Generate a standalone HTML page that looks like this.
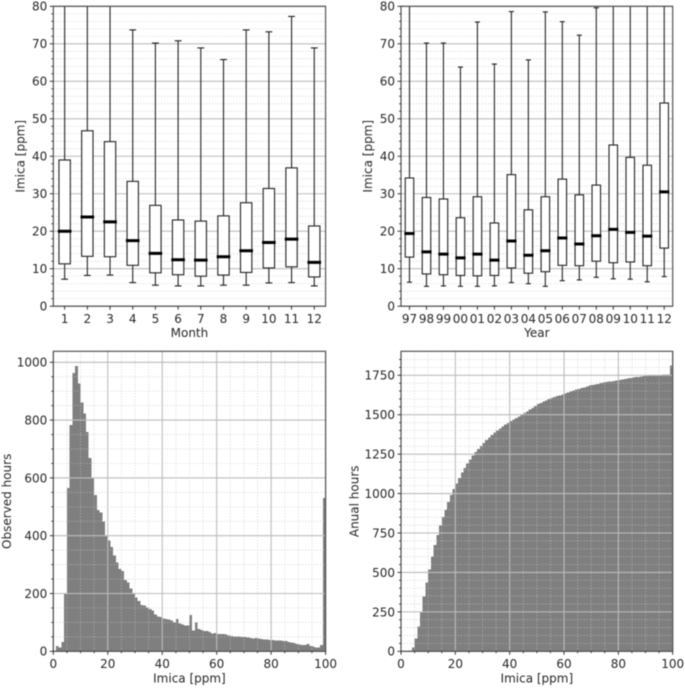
<!DOCTYPE html>
<html>
<head>
<meta charset="utf-8">
<title>Imica distribution charts</title>
<style>
html,body{margin:0;padding:0;background:#fff;}
svg{display:block;position:absolute;left:0;top:0;filter:blur(0.4px);}
text{font-family:"DejaVu Sans","Liberation Sans",sans-serif;fill:#262626;}
</style>
</head>
<body>
<svg id="chart" width="685" height="688" viewBox="0 0 685 688" xmlns="http://www.w3.org/2000/svg"></svg>
<script>
const monthLabels = ["1","2","3","4","5","6","7","8","9","10","11","12"];
const monthLow = [7.2,8.2,8.3,6.3,5.6,5.4,5.4,5.6,5.6,6.2,6.3,5.4];
const monthQ1 = [11.3,13.3,13.2,10.9,8.9,8.4,8,8.3,9,10.2,10.5,7.8];
const monthMedian = [20,23.8,22.5,17.5,14.1,12.4,12.3,13.2,14.8,17,17.9,11.7];
const monthQ3 = [39,46.8,43.9,33.3,26.9,23,22.7,24.1,27.6,31.4,36.9,21.4];
const monthHigh = [95,110,105,73.7,70.2,70.8,68.9,65.8,73.7,73.2,77.3,68.9];

const yearLabels = ["97","98","99","00","01","02","03","04","05","06","07","08","09","10","11","12"];
const yearLow = [6.4,5.3,5.4,5.3,5.3,5.4,6.3,6,5.3,6.8,7,7.7,7.3,7.2,6.5,7.9];
const yearQ1 = [13.1,8.6,8.4,8.2,8.1,8.2,10.2,8.8,9.2,10.9,10.8,12,11.6,11.8,10.8,15.5];
const yearMedian = [19.4,14.5,13.9,12.9,13.9,12.3,17.4,13.6,14.8,18.2,16.6,18.8,20.5,19.7,18.7,30.5];
const yearQ3 = [34.2,29,28.6,23.6,29.2,22.2,35.1,25.7,29.2,33.9,29.7,32.3,43,39.7,37.6,54.2];
const yearHigh = [95,70.2,70.2,63.8,75.8,64.6,78.6,65.7,78.5,75.9,72.3,79.6,95,95,95,110];

const boxTicks = [0,10,20,30,40,50,60,70,80];
const boxMinorTicks = [2,4,6,8,12,14,16,18,22,24,26,28,32,34,36,38,42,44,46,48,52,54,56,58,62,64,66,68,72,74,76,78];

const histXTicks = [0,20,40,60,80,100];
const histXMinorTicks = [5,10,15,25,30,35,45,50,55,65,70,75,85,90,95];
const observedTicks = [0,200,400,600,800,1000];
const observedMinorTicks = [50,100,150,250,300,350,450,500,550,650,700,750,850,900,950];
const annualTicks = [0,250,500,750,1000,1250,1500,1750];
const annualMinorTicks = [50,100,150,200,300,350,400,450,550,600,650,700,800,850,900,950,1050,1100,1150,1200,1300,1350,1400,1450,1550,1600,1650,1700,1800,1850];

const observedHours = [0,18,13,32,198,565,783,963,987,927,860,823,759,668,598,541,489,481,449,400,383,361,331,308,285,278,246,238,218,200,187,174,160,158,152,146,141,128,120,118,114,112,110,106,99,112,97,93,90,89,125,72,100,77,73,71,70,66,62,64,60,60,59,58,54,53,52,51,52,50,50,48,46,45,46,44,43,41,40,39,39,38,38,37,36,35,32,31,29,25,23,21,21,25,18,16,14,13,21,530];
const annualHours = [0,2,3,5,23,82,156,247,347,437,520,600,674,738,797,850,896,945,991,1030,1065,1100,1133,1161,1190,1217,1240,1262,1283,1302,1322,1340,1356,1372,1386,1400,1413,1425,1437,1449,1460,1470,1480,1490,1500,1510,1521,1532,1544,1556,1567,1575,1583,1591,1599,1606,1612,1618,1623,1629,1635,1641,1647,1653,1659,1664,1669,1674,1679,1684,1688,1692,1696,1700,1703,1706,1709,1712,1715,1718,1721,1724,1727,1730,1733,1736,1738,1740,1742,1744,1746,1748,1750,1751,1752,1753,1754,1755,1756,1811];

const svg = document.getElementById('chart');
const NS = 'http://www.w3.org/2000/svg';

function make(tag, attrs, parent) {
  const el = document.createElementNS(NS, tag);
  for (const k in attrs) el.setAttribute(k, attrs[k]);
  parent.appendChild(el);
  return el;
}

function drawGrid(g, box, xs, xsMinor, ys, ysMinor) {
  xsMinor.forEach(v => {
    const line = make('line', {x1: box.sx(v), x2: box.sx(v), y1: box.top, y2: box.bottom, stroke: '#c4c4c4', 'stroke-width': 0.7, 'stroke-dasharray': '1,2'}, g);
    
    
  });
  ysMinor.forEach(v => {
    const line = make('line', {x1: box.left, x2: box.right, y1: box.sy(v), y2: box.sy(v), stroke: '#c4c4c4', 'stroke-width': 0.7, 'stroke-dasharray': '1,2'}, g);
    
    
  });
  xs.forEach(v => {
    const line = make('line', {x1: box.sx(v), x2: box.sx(v), y1: box.top, y2: box.bottom, stroke: '#bcbcbc', 'stroke-width': 1.1}, g);
    
    
  });
  ys.forEach(v => {
    const line = make('line', {x1: box.left, x2: box.right, y1: box.sy(v), y2: box.sy(v), stroke: '#bcbcbc', 'stroke-width': 1.1}, g);
    
    
  });
}

function drawFrame(g, box, xTicks, xLabels, xMinor, yTicks, yMinor, title, xTitle) {
  const frame = make('rect', {x: box.left, y: box.top, width: box.right - box.left, height: box.bottom - box.top, fill: 'none', stroke: '#444', 'stroke-width': 1.1}, g);
  
  
  xMinor.forEach(v => {
    const t = make('line', {x1: box.sx(v), x2: box.sx(v), y1: box.bottom, y2: box.bottom + 2, stroke: '#222', 'stroke-width': 0.8}, g);
    
    
  });
  yMinor.forEach(v => {
    const t = make('line', {x1: box.left, x2: box.left - 2, y1: box.sy(v), y2: box.sy(v), stroke: '#222', 'stroke-width': 0.8}, g);
    
    
  });
  xTicks.forEach((v, i) => {
    const t = make('line', {x1: box.sx(v), x2: box.sx(v), y1: box.bottom, y2: box.bottom + 3.5, stroke: '#222', 'stroke-width': 0.9}, g);
    
    
    const label = make('text', {x: box.sx(v), y: box.bottom + 16.6, 'font-size': 12, 'text-anchor': 'middle'}, g);
    label.textContent = xLabels[i];
    
    
  });
  yTicks.forEach(v => {
    const t = make('line', {x1: box.left, x2: box.left - 3.5, y1: box.sy(v), y2: box.sy(v), stroke: '#222', 'stroke-width': 0.9}, g);
    
    
    const label = make('text', {x: box.left - 6, y: box.sy(v) + 4.4, 'font-size': 12, 'text-anchor': 'end'}, g);
    label.textContent = String(v);
    
    
  });
  const xt = make('text', {x: (box.left + box.right) / 2, y: box.bottom + 31, 'font-size': 12, 'text-anchor': 'middle'}, g);
  xt.textContent = xTitle;
  
  
  const cy = (box.top + box.bottom) / 2;
  const yt = make('text', {x: box.yTitleX, y: cy, 'font-size': 12, 'text-anchor': 'middle', transform: 'rotate(-90 ' + box.yTitleX + ' ' + cy + ')'}, g);
  yt.textContent = title;
  
  
}

function boxPanel(name, clipId, geom, labels, low, q1, med, q3, high, xTitle) {
  const g = make('g', {}, svg);
  
  
  const n = labels.length;
  const unit = (geom.right - geom.left) / n;
  const box = Object.assign({}, geom, {
    sx: v => geom.left + (v + 0.5) * unit,
    sy: v => geom.bottom - v / 80 * (geom.bottom - geom.top)
  });
  const clip = make('clipPath', {id: clipId}, g);
  make('rect', {x: box.left, y: box.top, width: box.right - box.left, height: box.bottom - box.top}, clip);
  const idx = labels.map((_, i) => i);
  drawGrid(g, box, [], [], boxTicks, boxMinorTicks);
  const marks = make('g', {'clip-path': 'url(#' + clipId + ')'}, g);
  const halfBox = unit * 0.25, halfMed = unit * 0.3, halfCap = unit * 0.15;
  idx.forEach(i => {
    const cx = box.sx(i);
    const group = make('g', {}, marks);
    
    
    const whisk = make('path', {d: 'M' + cx + ' ' + box.sy(low[i]) + 'V' + box.sy(q1[i]) + 'M' + cx + ' ' + box.sy(q3[i]) + 'V' + box.sy(high[i]), stroke: '#222', 'stroke-width': 1.1, fill: 'none'}, group);
    
    
    const caps = make('path', {d: 'M' + (cx - halfCap) + ' ' + box.sy(low[i]) + 'H' + (cx + halfCap) + 'M' + (cx - halfCap) + ' ' + box.sy(high[i]) + 'H' + (cx + halfCap), stroke: '#222', 'stroke-width': 1.1, fill: 'none'}, group);
    
    
    const rect = make('rect', {x: cx - halfBox, width: halfBox * 2, y: box.sy(q3[i]), height: box.sy(q1[i]) - box.sy(q3[i]), fill: '#fff', stroke: '#222', 'stroke-width': 1.1}, group);
    
    
    const m = make('line', {x1: cx - halfMed, x2: cx + halfMed, y1: box.sy(med[i]), y2: box.sy(med[i]), stroke: '#000', 'stroke-width': 3}, group);
    
    
  });
  drawFrame(g, box, idx, labels, [], boxTicks, boxMinorTicks, 'Imica [ppm]', xTitle);
}

function histPanel(name, geom, values, yMax, yTicks, yMinor, title) {
  const g = make('g', {}, svg);
  
  
  const box = Object.assign({}, geom, {
    sx: v => geom.left + v / 100 * (geom.right - geom.left),
    sy: v => geom.bottom - v / yMax * (geom.bottom - geom.top)
  });
  const bars = make('g', {'shape-rendering': 'crispEdges'}, g);
  values.forEach((v, i) => {
    const bar = make('rect', {x: box.sx(i), width: box.sx(i + 1) - box.sx(i), y: box.sy(v), height: box.bottom - box.sy(v), fill: '#7f7f7f'}, bars);
    
    
  });
  drawGrid(g, box, histXTicks, histXMinorTicks, yTicks, yMinor);
  drawFrame(g, box, histXTicks, histXTicks.map(String), histXMinorTicks, yTicks, yMinor, title, 'Imica [ppm]');
}

boxPanel('month-boxplot', 'clip-month', {left: 53.3, right: 325.6, top: 6.3, bottom: 306.2, yTitleX: 24.5}, monthLabels, monthLow, monthQ1, monthMedian, monthQ3, monthHigh, 'Month');
boxPanel('year-boxplot', 'clip-year', {left: 401, right: 672.7, top: 6.3, bottom: 306.2, yTitleX: 372}, yearLabels, yearLow, yearQ1, yearMedian, yearQ3, yearHigh, 'Year');
histPanel('observed-hours-histogram', {left: 53.3, right: 325.6, top: 351.3, bottom: 651.3, yTitleX: 11}, observedHours, 1038, observedTicks, observedMinorTicks, 'Observed hours');
histPanel('annual-hours-histogram', {left: 401, right: 672.7, top: 351.3, bottom: 651.3, yTitleX: 358.5}, annualHours, 1902, annualTicks, annualMinorTicks, 'Anual hours');
</script>
</body>
</html>
